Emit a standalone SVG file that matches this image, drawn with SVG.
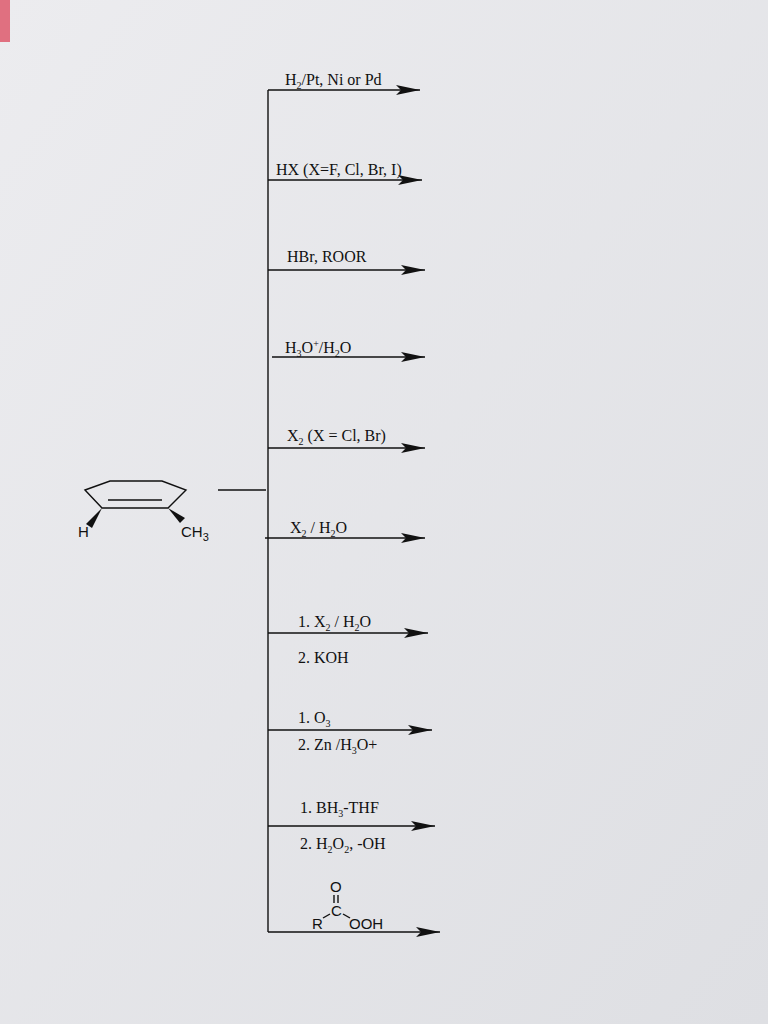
<svg xmlns="http://www.w3.org/2000/svg" width="768" height="1024" viewBox="0 0 768 1024">
<defs>
<marker id="ah" markerWidth="24" markerHeight="10" refX="24" refY="5" orient="auto" markerUnits="userSpaceOnUse"><path d="M0,0 L24,5 L0,10 L5,5 Z" fill="#111"/></marker>
<linearGradient id="bg" x1="0" y1="0" x2="1" y2="1"><stop offset="0" stop-color="#ececef"/><stop offset="1" stop-color="#dedfe3"/></linearGradient>
</defs>
<style>
.t{font-family:"Liberation Serif",serif;font-size:16px;fill:#111}
.s{font-family:"Liberation Sans",sans-serif;font-size:15px;fill:#111}
.l{stroke:#111;stroke-width:1.4;fill:none}
.a{stroke:#111;stroke-width:1.4;marker-end:url(#ah)}
</style>
<rect width="768" height="1024" fill="url(#bg)"/>
<rect x="0" y="0" width="10" height="42" fill="#e07080"/>
<g id="molecule">
<path class="l" d="M85,490 L110,481 L162,481 L186,490 L168,508 L102,508 Z"/>
<line class="l" x1="108" y1="500" x2="162" y2="500"/>
<path d="M102,508 L86,524 L92,528 Z" fill="#111"/>
<path d="M168,508 L180,523 L185,518 Z" fill="#111"/>
<text class="s" x="78" y="537">H</text>
<text class="s" x="181" y="537">CH<tspan font-size="11" dy="4">3</tspan></text>
</g>
<g id="connectors">
<line class="l" x1="218" y1="490" x2="266" y2="490"/>
<line class="l" x1="268" y1="90" x2="268" y2="932"/>
<line class="a" x1="268" y1="90" x2="420" y2="90"/>
<line class="a" x1="268" y1="180" x2="422" y2="180"/>
<line class="a" x1="268" y1="270" x2="425" y2="270"/>
<line class="a" x1="272" y1="357" x2="425" y2="357"/>
<line class="a" x1="268" y1="448" x2="425" y2="448"/>
<line class="a" x1="265" y1="538" x2="425" y2="538"/>
<line class="a" x1="268" y1="633" x2="428" y2="633"/>
<line class="a" x1="268" y1="730" x2="432" y2="730"/>
<line class="a" x1="268" y1="826" x2="435" y2="826"/>
<line class="a" x1="268" y1="932" x2="440" y2="932"/>
</g>
<g id="labels">
<text class="t" x="285" y="85">H<tspan font-size="10" dy="4">2</tspan><tspan dy="-4">/Pt, Ni or Pd</tspan></text>
<text class="t" x="276" y="175">HX (X=F, Cl, Br, I)</text>
<text class="t" x="287" y="262">HBr, ROOR</text>
<text class="t" x="285" y="353">H<tspan font-size="10" dy="4">3</tspan><tspan dy="-4">O</tspan><tspan font-size="10" dy="-6">+</tspan><tspan dy="6">/H</tspan><tspan font-size="10" dy="4">2</tspan><tspan dy="-4">O</tspan></text>
<text class="t" x="287" y="441">X<tspan font-size="10" dy="4">2</tspan><tspan dy="-4"> (X = Cl, Br)</tspan></text>
<text class="t" x="290" y="533">X<tspan font-size="10" dy="4">2</tspan><tspan dy="-4"> / H</tspan><tspan font-size="10" dy="4">2</tspan><tspan dy="-4">O</tspan></text>
<text class="t" x="298" y="627">1. X<tspan font-size="10" dy="4">2</tspan><tspan dy="-4"> / H</tspan><tspan font-size="10" dy="4">2</tspan><tspan dy="-4">O</tspan></text>
<text class="t" x="298" y="663">2. KOH</text>
<text class="t" x="298" y="723">1. O<tspan font-size="10" dy="4">3</tspan></text>
<text class="t" x="298" y="750">2. Zn /H<tspan font-size="10" dy="4">3</tspan><tspan dy="-4">O+</tspan></text>
<text class="t" x="300" y="813">1. BH<tspan font-size="10" dy="4">3</tspan><tspan dy="-4">-THF</tspan></text>
<text class="t" x="300" y="849">2. H<tspan font-size="10" dy="4">2</tspan><tspan dy="-4">O</tspan><tspan font-size="10" dy="4">2</tspan><tspan dy="-4">, -OH</tspan></text>
</g>
<g id="peracid">
<text class="s" x="330" y="892">O</text>
<line class="l" x1="334" y1="895" x2="334" y2="903" stroke-width="1"/>
<line class="l" x1="338" y1="895" x2="338" y2="903" stroke-width="1"/>
<text class="s" x="331" y="916">C</text>
<line class="l" x1="323" y1="918" x2="330" y2="914" stroke-width="1"/>
<line class="l" x1="343" y1="914" x2="350" y2="918" stroke-width="1"/>
<text class="s" x="312" y="929">R</text>
<text class="s" x="349" y="929">OOH</text>
</g>
</svg>
